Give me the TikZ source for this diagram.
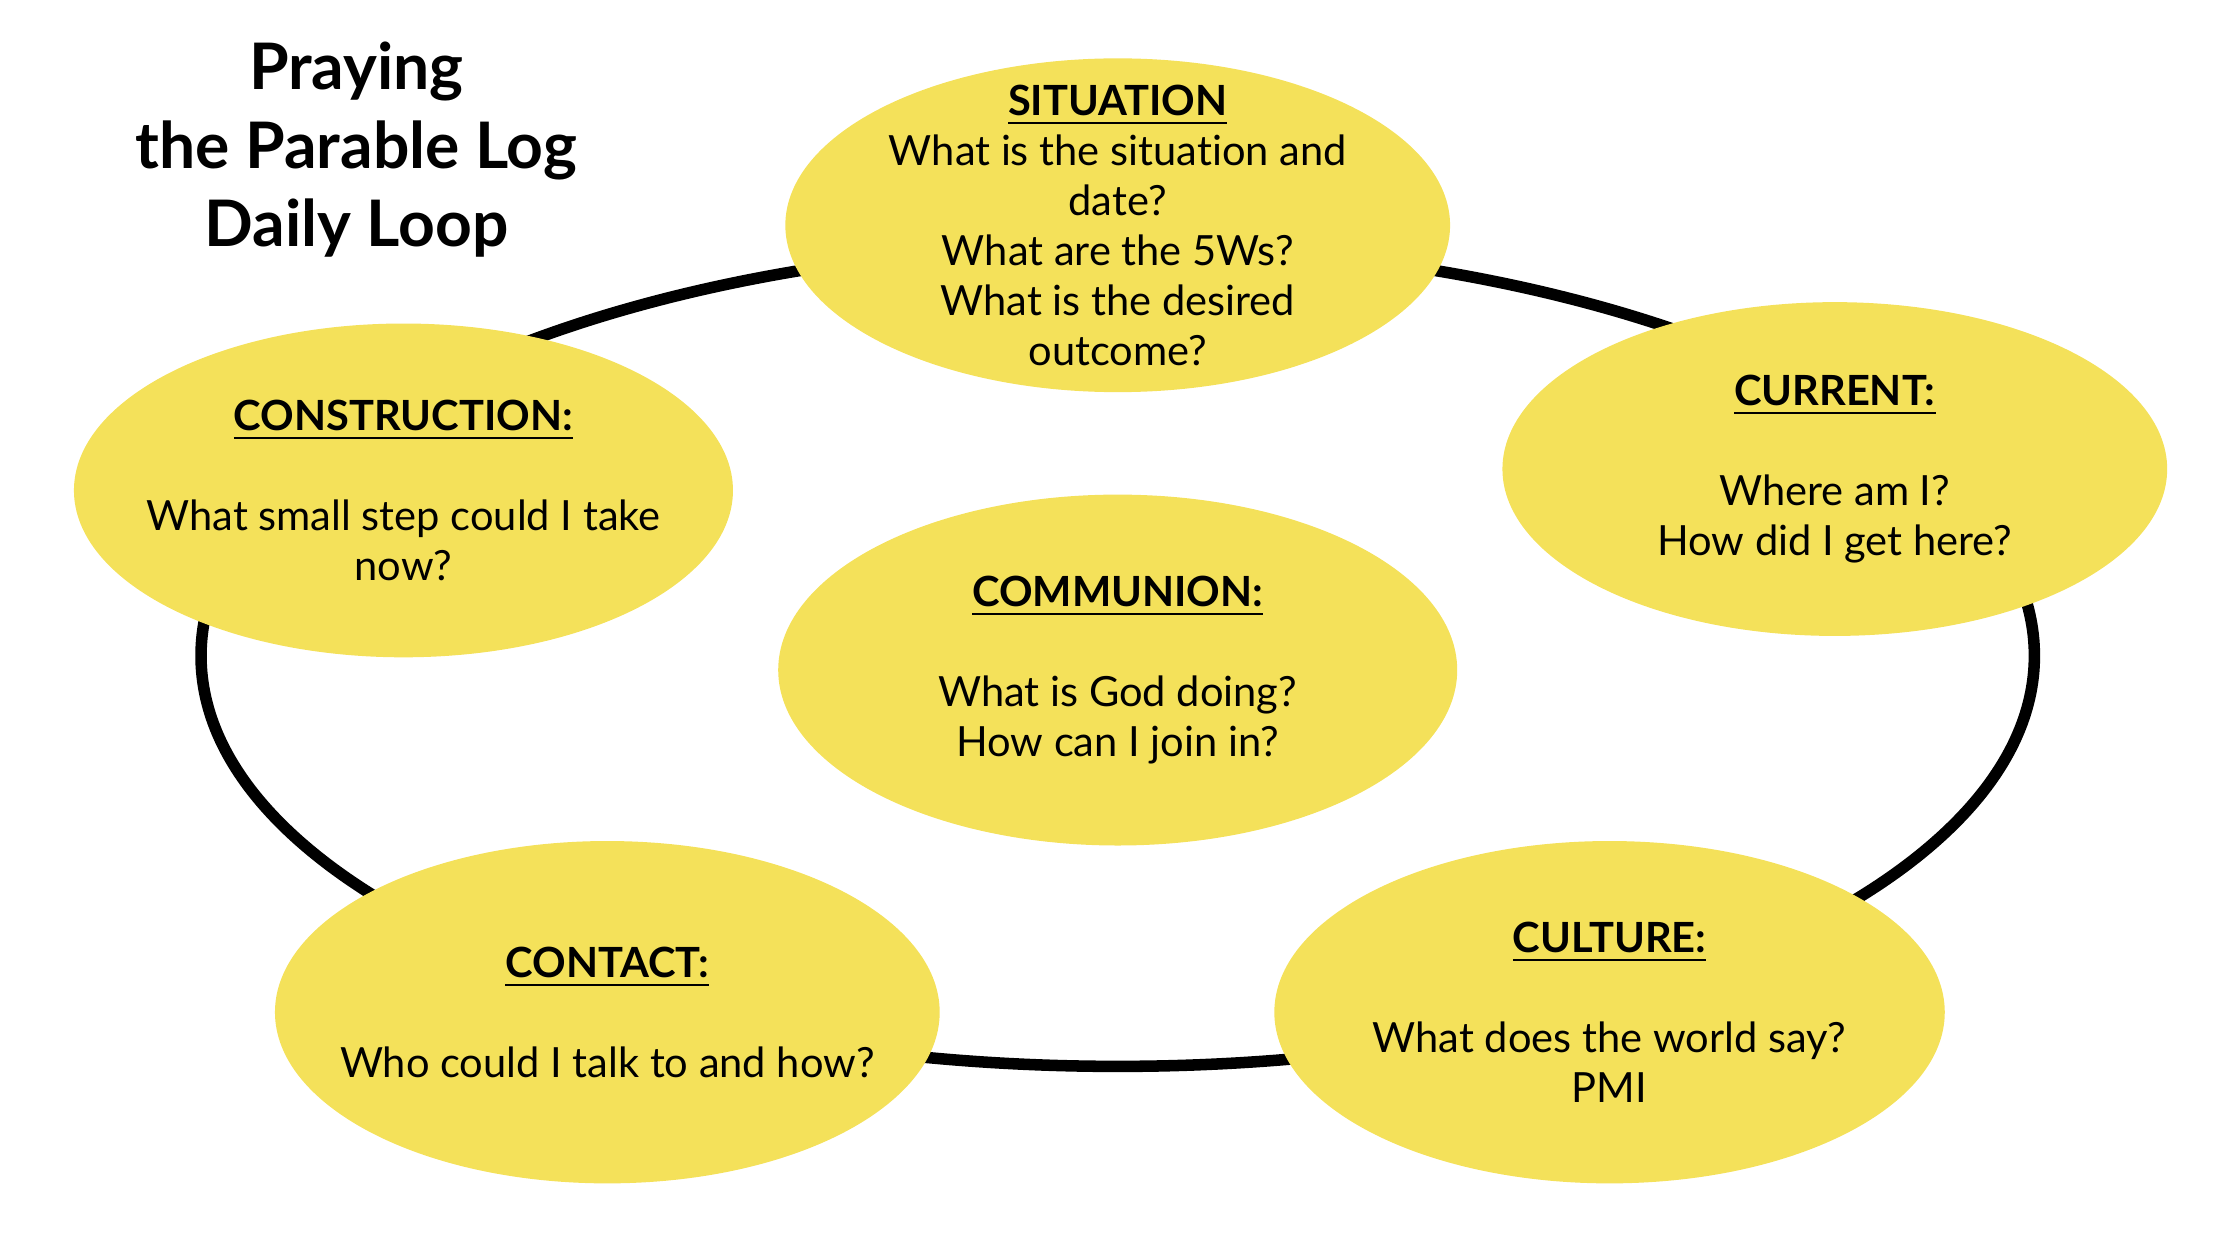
\documentclass[tikz,border=0pt]{standalone}
\usepackage{fontspec}
\setmainfont{Lato}[Ligatures={NoCommon,NoRare}]
\usetikzlibrary{shapes.geometric}
\definecolor{blobyellow}{HTML}{F4E15A}
\tikzset{
  blob/.style={ellipse, fill=blobyellow, inner sep=0pt},
  txt/.style={align=center, font=\fontsize{8.3}{9.96}\selectfont},
}
\newcommand{\hd}[1]{\textbf{\underline{#1}}}
\begin{document}
\begin{tikzpicture}[x=0.01cm, y=-0.01cm]
\useasboundingbox (0,0) rectangle (1560,873);
% loop
\draw[line width=2.3pt] (784,460) ellipse [x radius=643, y radius=288];
% title
\node[align=center, font=\fontsize{12.8}{15.6}\selectfont\bfseries] (title) at (250,105) {Praying\\the Parable Log\\Daily Loop};
% blobs
\node[blob, minimum width=4.66cm, minimum height=2.34cm] (sit) at (784,158) {};
\node[blob, minimum width=4.66cm, minimum height=2.34cm] (cur) at (1287,329) {};
\node[blob, minimum width=4.62cm, minimum height=2.34cm] (con) at (283,344) {};
\node[blob, minimum width=4.76cm, minimum height=2.46cm] (com) at (784,470) {};
\node[blob, minimum width=4.66cm, minimum height=2.40cm] (cnt) at (426,710) {};
\node[blob, minimum width=4.70cm, minimum height=2.40cm] (cul) at (1129,710) {};
% texts
\node[txt] (sitT) at (sit) {\hd{SITUATION}\\What is the situation and\\date?\\What are the 5Ws?\\What is the desired\\outcome?};
\node[txt] (curT) at (cur) {\hd{CURRENT:}\\[9.96pt]Where am I?\\How did I get here?};
\node[txt] (conT) at (con) {\hd{CONSTRUCTION:}\\[9.96pt]What small step could I take\\now?};
\node[txt] (comT) at (com) {\hd{COMMUNION:}\\[9.96pt]What is God doing?\\How can I join in?};
\node[txt] (cntT) at (cnt) {\hd{CONTACT:}\\[9.96pt]Who could I talk to and how?};
\node[txt] (culT) at (cul) {\hd{CULTURE:}\\[9.96pt]What does the world say?\\PMI};
\end{tikzpicture}
\end{document}
